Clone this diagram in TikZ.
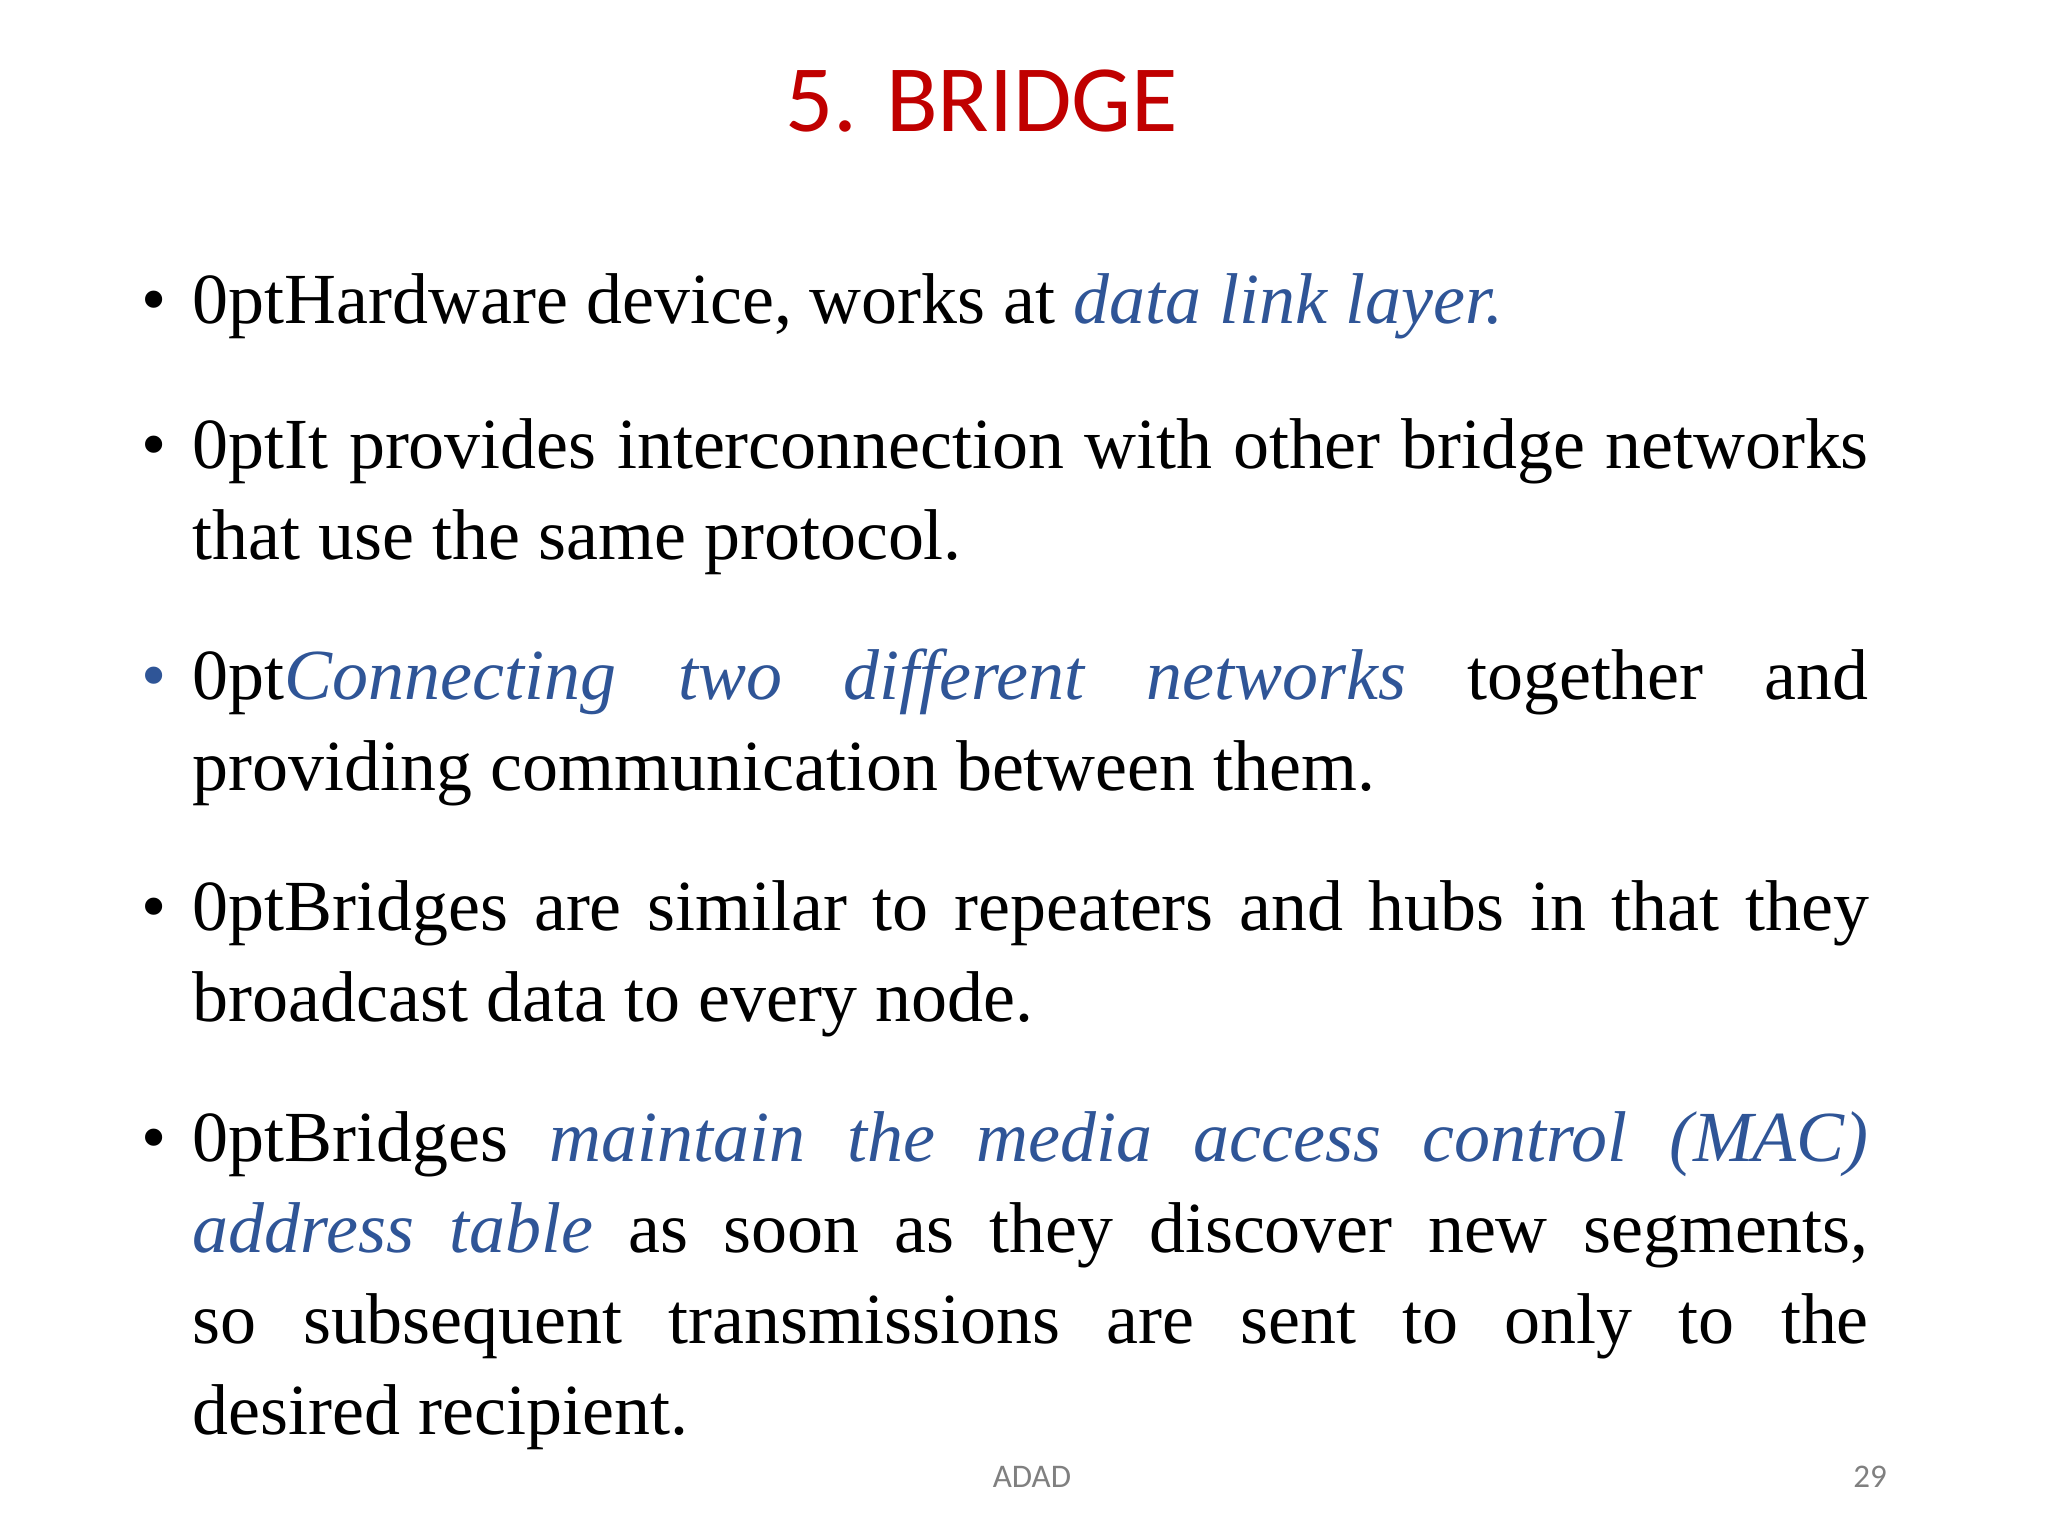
\documentclass[tikz,border=0pt]{standalone}
\usepackage{fontspec}
\setmainfont{Liberation Serif}
\newfontfamily\calfnt{Carlito}
\definecolor{tred}{RGB}{192,0,0}
\definecolor{iblue}{RGB}{47,85,151}
\begin{document}
\begin{tikzpicture}[x=1pt,y=-1pt,
 para/.style={anchor=base west,text width=1270pt,align=justify,inner sep=0pt,font=\fontsize{54.5}{69}\selectfont\hyphenpenalty=10000\exhyphenpenalty=10000},
 bul/.style={anchor=base west,inner sep=0pt,font=\fontsize{54.5}{69}\selectfont}]
\useasboundingbox[fill=white] (0,0) rectangle (1552,1164);
\node[anchor=base,inner sep=0pt,text=tred,font=\calfnt\fontsize{72}{80}\selectfont] (title) at (744,100) {5. BRIDGE};
\node[bul] (b1) at (107,245) {•};
\node[para] (p1) at (146,245) {Hardware device, works at \textcolor{iblue}{\itshape data link layer.}};
\node[bul] (b2) at (107,355) {•};
\node[para] (p2) at (146,355) {It provides interconnection with other bridge networks\linebreak that use the same protocol.};
\node[bul,text=iblue] (b3) at (107,530) {•};
\node[para] (p3) at (146,530) {\textcolor{iblue}{\itshape Connecting two different networks} together and\linebreak providing communication between them.};
\node[bul] (b4) at (107,705) {•};
\node[para] (p4) at (146,705) {Bridges are similar to repeaters and hubs in that they\linebreak broadcast data to every node.};
\node[bul] (b5) at (107,880) {•};
\node[para] (p5) at (146,880) {Bridges \textcolor{iblue}{\itshape maintain the media access control (MAC)\linebreak address table} as soon as they discover new segments,\linebreak so subsequent transmissions are sent to only to the\linebreak desired recipient.};
\node[anchor=base,inner sep=0pt,text=gray,font=\calfnt\fontsize{25}{28}\selectfont] (foot) at (782,1127) {ADAD};
\node[anchor=base east,inner sep=0pt,text=gray,font=\calfnt\fontsize{25}{28}\selectfont] (num) at (1430,1127) {29};
\end{tikzpicture}
\end{document}
